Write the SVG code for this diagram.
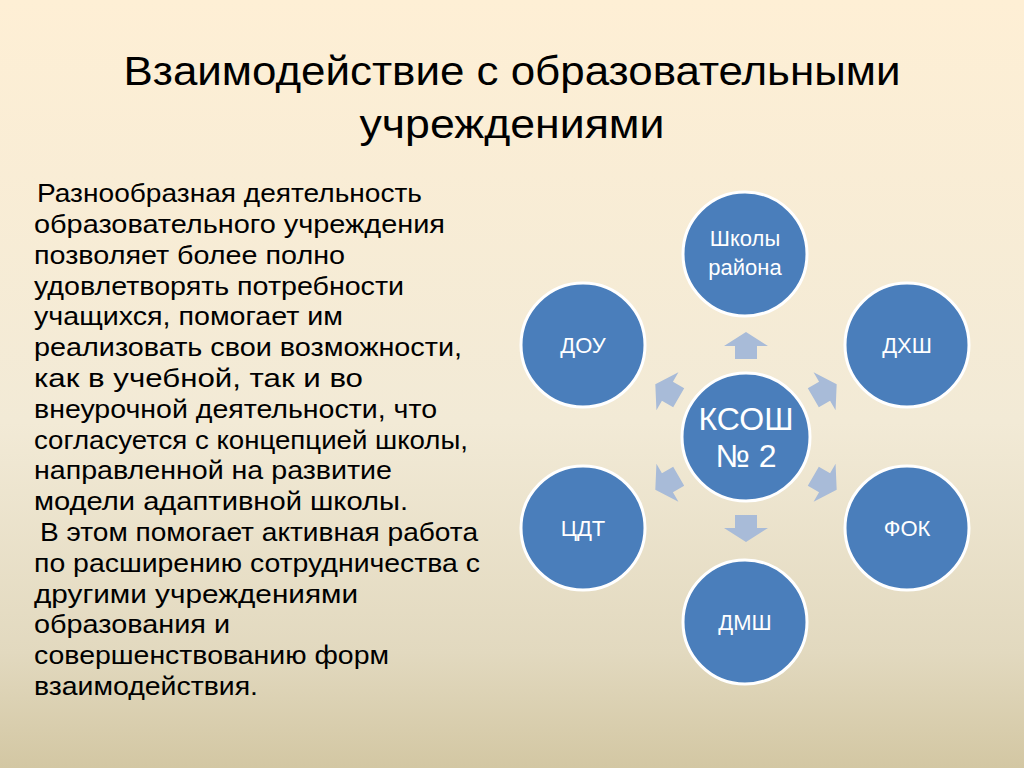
<svg xmlns="http://www.w3.org/2000/svg" width="1024" height="768" viewBox="0 0 1024 768">
<defs>
<linearGradient id="bg" x1="0" y1="0" x2="0" y2="1">
<stop offset="0" stop-color="#feefd5"/>
<stop offset="0.55" stop-color="#f2ead6"/>
<stop offset="0.85" stop-color="#e2d9bf"/>
<stop offset="1" stop-color="#d3c7a3"/>
</linearGradient>
<polygon id="arr" points="-13.5,-11 -0.5,-11 -0.5,-22 13.5,0 -0.5,22 -0.5,11 -13.5,11"/>
</defs>
<style>
.title{font-family:"Liberation Sans","Noto Sans",sans-serif;font-size:40px;fill:#000;text-anchor:middle}
.body{font-family:"Liberation Sans","Noto Sans",sans-serif;font-size:26px;fill:#000}
.node circle{fill:#4a7ebb;stroke:#fff;stroke-width:3}
.lbl{font-family:"Liberation Sans","Noto Sans",sans-serif;font-size:22px;fill:#fff;text-anchor:middle}
.big{font-size:32px}
.conn use{fill:#a8bbd8}
</style>
<rect width="1024" height="768" fill="url(#bg)"/>
<g id="title">
<text class="title" x="512" y="85" textLength="777" lengthAdjust="spacingAndGlyphs">Взаимодействие с образовательными</text>
<text class="title" x="512" y="138" textLength="305" lengthAdjust="spacingAndGlyphs">учреждениями</text>
</g>
<g id="text" class="body">
<text x="37" y="202" textLength="385" lengthAdjust="spacingAndGlyphs">Разнообразная деятельность</text>
<text x="34" y="233" textLength="411" lengthAdjust="spacingAndGlyphs">образовательного учреждения</text>
<text x="34" y="264" textLength="311" lengthAdjust="spacingAndGlyphs">позволяет более полно</text>
<text x="34" y="295" textLength="370" lengthAdjust="spacingAndGlyphs">удовлетворять потребности</text>
<text x="34" y="325" textLength="309" lengthAdjust="spacingAndGlyphs">учащихся, помогает им</text>
<text x="34" y="356" textLength="428" lengthAdjust="spacingAndGlyphs">реализовать свои возможности,</text>
<text x="34" y="387" textLength="329" lengthAdjust="spacingAndGlyphs">как в учебной, так и во</text>
<text x="34" y="418" textLength="403" lengthAdjust="spacingAndGlyphs">внеурочной деятельности, что</text>
<text x="34" y="449" textLength="434" lengthAdjust="spacingAndGlyphs">согласуется с концепцией школы,</text>
<text x="34" y="479" textLength="358" lengthAdjust="spacingAndGlyphs">направленной на развитие</text>
<text x="34" y="510" textLength="374" lengthAdjust="spacingAndGlyphs">модели адаптивной школы.</text>
<text x="40" y="541" textLength="438" lengthAdjust="spacingAndGlyphs">В этом помогает активная работа</text>
<text x="34" y="572" textLength="446" lengthAdjust="spacingAndGlyphs">по расширению сотрудничества с</text>
<text x="34" y="603" textLength="324" lengthAdjust="spacingAndGlyphs">другими учреждениями</text>
<text x="34" y="633" textLength="196" lengthAdjust="spacingAndGlyphs">образования и</text>
<text x="34" y="664" textLength="355" lengthAdjust="spacingAndGlyphs">совершенствованию форм</text>
<text x="34" y="695" textLength="224" lengthAdjust="spacingAndGlyphs">взаимодействия.</text>
</g>
<g id="connectors" class="conn">
<use href="#arr" transform="translate(746,345.5) rotate(-90)"/>
<use href="#arr" transform="translate(746,528.5) rotate(90)"/>
<use href="#arr" transform="translate(667,391) rotate(-150)"/>
<use href="#arr" transform="translate(825,391) rotate(-30)"/>
<use href="#arr" transform="translate(667,483) rotate(150)"/>
<use href="#arr" transform="translate(825,483) rotate(30)"/>
</g>
<g id="n-center" class="node">
<circle cx="746" cy="437" r="64"/>
<text class="lbl big" x="746" y="430">КСОШ</text>
<text class="lbl big" x="746" y="467">№ 2</text>
</g>
<g id="n-schools" class="node">
<circle cx="745" cy="254" r="62"/>
<text class="lbl" x="745" y="246">Школы</text>
<text class="lbl" x="745" y="275">района</text>
</g>
<g id="n-dou" class="node">
<circle cx="583" cy="345" r="62"/>
<text class="lbl" x="583" y="353">ДОУ</text>
</g>
<g id="n-dhsh" class="node">
<circle cx="907" cy="345" r="62"/>
<text class="lbl" x="907" y="353">ДХШ</text>
</g>
<g id="n-cdt" class="node">
<circle cx="583" cy="528" r="62"/>
<text class="lbl" x="583" y="536">ЦДТ</text>
</g>
<g id="n-fok" class="node">
<circle cx="907" cy="528" r="62"/>
<text class="lbl" x="907" y="536">ФОК</text>
</g>
<g id="n-dmsh" class="node">
<circle cx="745" cy="622" r="62"/>
<text class="lbl" x="745" y="630">ДМШ</text>
</g>
</svg>
